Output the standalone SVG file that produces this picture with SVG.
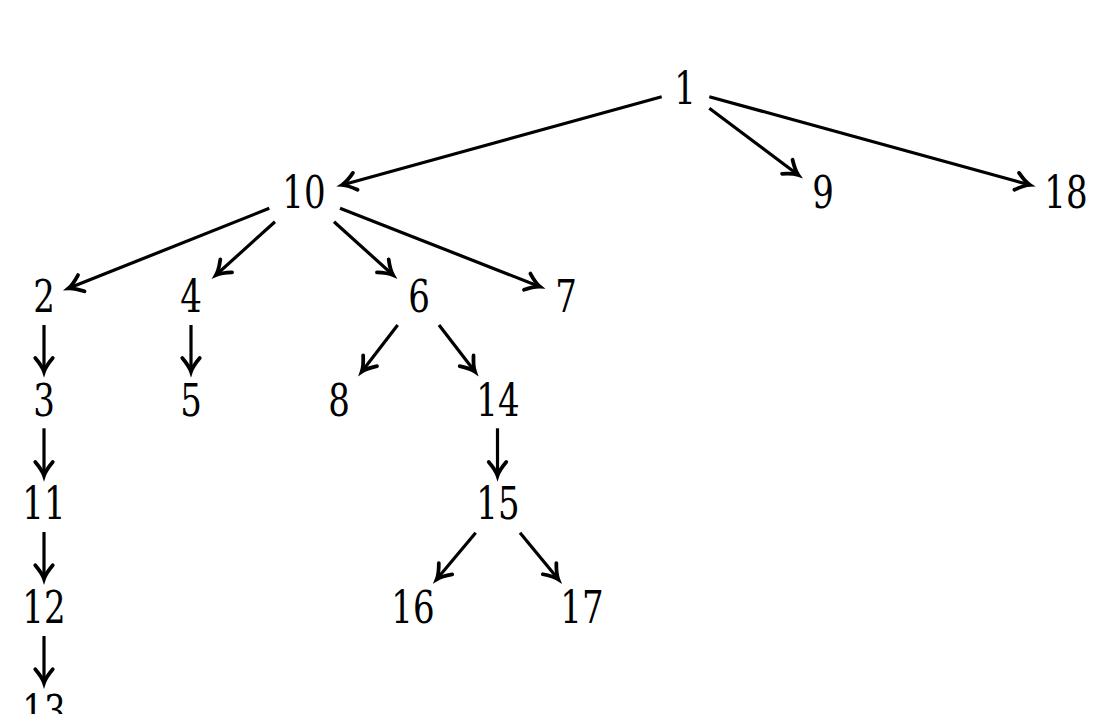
<svg xmlns="http://www.w3.org/2000/svg" width="1109" height="714" viewBox="0 0 1109 714">
<style>
.n text{font-family:"DejaVu Serif Condensed","DejaVu Serif",serif;font-size:44px;fill:#000;text-anchor:middle}
.e line{stroke:#000;stroke-width:3.2;fill:none;marker-end:url(#ah)}
</style>
<defs>
<marker id="ah" markerUnits="userSpaceOnUse" orient="auto" refX="0" refY="0" markerWidth="20" markerHeight="20" viewBox="-12 -8 14 16" overflow="visible">
<path d="M-11,-7 Q-4.5,-1.5 0,0 Q-4.5,1.5 -11,7" fill="none" stroke="#000" stroke-width="3" stroke-linecap="round"/>
</marker>
</defs>
<rect width="1109" height="714" fill="#fff"/>
<g class="e" id="edges">
<line x1="661.7" y1="96.7" x2="342" y2="185"/>
<line x1="709.3" y1="108.3" x2="798.3" y2="175"/>
<line x1="709.3" y1="96.7" x2="1030" y2="185"/>
<line x1="269.3" y1="208.3" x2="68.5" y2="288.3"/>
<line x1="275" y1="221.7" x2="216" y2="275"/>
<line x1="334" y1="221.7" x2="393" y2="275"/>
<line x1="340" y1="208.3" x2="540" y2="286.7"/>
<line x1="44" y1="325" x2="44" y2="371.7"/>
<line x1="191" y1="325" x2="191" y2="371.7"/>
<line x1="397.7" y1="325" x2="361.7" y2="371.7"/>
<line x1="439" y1="325" x2="475" y2="371.7"/>
<line x1="44" y1="428.3" x2="44" y2="475.7"/>
<line x1="497.5" y1="428.3" x2="497.5" y2="475.7"/>
<line x1="44" y1="532" x2="44" y2="579"/>
<line x1="475.7" y1="532.7" x2="436.7" y2="579.3"/>
<line x1="520" y1="532.7" x2="558.3" y2="579.3"/>
<line x1="44" y1="636" x2="44" y2="683"/>
</g>
<g class="n" id="n1"><text transform="translate(685,103.5) scale(0.86,1)">1</text></g>
<g class="n" id="n10"><text transform="translate(304,207.5) scale(0.86,1)">10</text></g>
<g class="n" id="n9"><text transform="translate(823,207.5) scale(0.86,1)">9</text></g>
<g class="n" id="n18"><text transform="translate(1066,207.5) scale(0.86,1)">18</text></g>
<g class="n" id="n2"><text transform="translate(44,311.5) scale(0.86,1)">2</text></g>
<g class="n" id="n4"><text transform="translate(191,311.5) scale(0.86,1)">4</text></g>
<g class="n" id="n6"><text transform="translate(419,311.5) scale(0.86,1)">6</text></g>
<g class="n" id="n7"><text transform="translate(566,311.5) scale(0.86,1)">7</text></g>
<g class="n" id="n3"><text transform="translate(44,415.5) scale(0.86,1)">3</text></g>
<g class="n" id="n5"><text transform="translate(191,415.5) scale(0.86,1)">5</text></g>
<g class="n" id="n8"><text transform="translate(339,415.5) scale(0.86,1)">8</text></g>
<g class="n" id="n14"><text transform="translate(498,415.5) scale(0.86,1)">14</text></g>
<g class="n" id="n11"><text transform="translate(44,519) scale(0.86,1)">11</text></g>
<g class="n" id="n15"><text transform="translate(498,519) scale(0.86,1)">15</text></g>
<g class="n" id="n12"><text transform="translate(44,623) scale(0.86,1)">12</text></g>
<g class="n" id="n16"><text transform="translate(413,623) scale(0.86,1)">16</text></g>
<g class="n" id="n17"><text transform="translate(582,623) scale(0.86,1)">17</text></g>
<g class="n" id="n13"><text transform="translate(44,727) scale(0.86,1)">13</text></g>
</svg>
